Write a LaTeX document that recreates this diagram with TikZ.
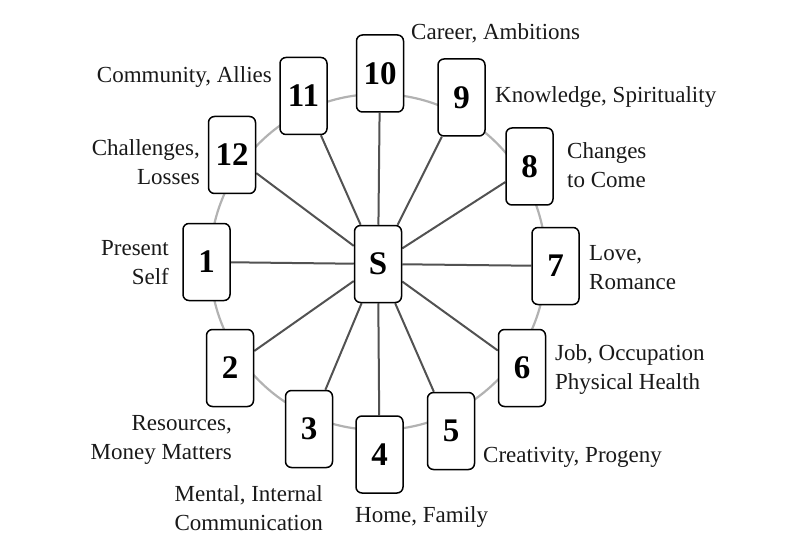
\documentclass[tikz,border=0pt]{standalone}
\usepackage{fontspec}
\setmainfont{Liberation Serif}
\usetikzlibrary{backgrounds}
\tikzset{
  card/.style={draw, rounded corners=6pt, fill=white, line width=1.5pt,
    minimum width=47pt, minimum height=77pt, inner sep=0pt,
    font=\fontsize{33}{33}\selectfont\bfseries},
  spoke/.style={draw=black!68, line width=2pt},
  ring/.style={draw=black!30, line width=2.2pt},
  house/.style={inner sep=0pt, text=black!90, font=\fontsize{23}{29}\selectfont}
}
\begin{document}
\begin{tikzpicture}[x=1pt,y=-1pt]
            \useasboundingbox (0,0) rectangle (800,556);
            \node[card] (s) at (378,264) {S};
            \foreach \n/\x/\y in {1/206.5/262, 2/230/368, 3/309/429, 4/379.5/454.5,
                5/451/431, 6/522/368, 7/555.5/266, 8/529.5/166.5,
                9/461.5/97.5, 10/380/73.5, 11/303.5/96, 12/232/155}
                \node[card] (c\n) at (\x,\y) {\n};
            \begin{pgfonlayer}{background}
            \draw[ring] (378,262) coordinate (o) circle (168pt);
            \foreach \n in {1,...,12}
                \draw[spoke] (s) -- (c\n);
            \end{pgfonlayer}
            % houses
            \node[house,anchor=west] (h10) at (411,33) {Career, Ambitions};
            \node[house,anchor=east] (h11) at (272,77) {Community, Allies};
            \node[house,anchor=west] (h9) at (495,97) {Knowledge, Spirituality};
            \node[house,anchor=east,align=right] (h12) at (200,162) {Challenges,\\Losses};
            \node[house,anchor=west,align=left] (h8) at (567,165) {Changes\\to Come};
            \node[house,anchor=east,align=right] (h1) at (169,263) {Present\\Self};
            \node[house,anchor=west,align=left] (h7) at (589,268) {Love,\\Romance};
            \node[house,anchor=west,align=left] (h6) at (555,370) {Job, Occupation\\Physical Health};
            \node[house,anchor=east,align=right] (h2) at (232,440) {Resources,\\Money Matters};
            \node[house,anchor=west] (h5) at (483,457) {Creativity, Progeny};
            \node[house,anchor=east,align=right] (h3) at (323,508) {Mental, Internal\\Communication};
            \node[house,anchor=west] (h4) at (355,517) {Home, Family};
        \end{tikzpicture}
\end{document}
